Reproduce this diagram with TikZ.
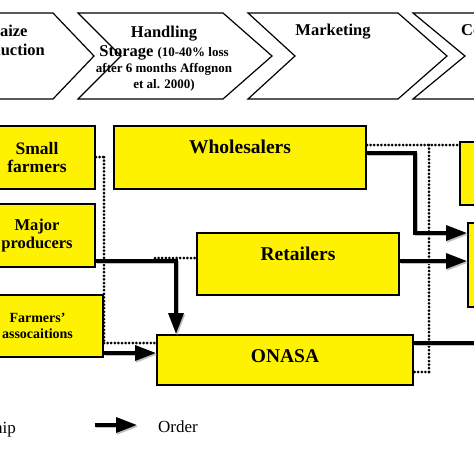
\documentclass[tikz,border=0pt]{standalone}
\usepackage{fontspec}
\setmainfont{Liberation Serif}
\usetikzlibrary{arrows.meta, positioning, decorations.markings}

\begin{document}
\begin{tikzpicture}[x=1pt, y=-1pt,
  stage/.style={draw, line width=1.2pt, fill=white},
  stagetext/.style={font=\bfseries\fontsize{16.5}{19}\selectfont, align=center, inner sep=0pt},
  actor/.style={draw, line width=2pt, fill=yellow, align=center, inner sep=0pt, font=\bfseries\fontsize{#1}{#1}\selectfont},
  orderline/.style={line width=3.4pt, preaction={draw=black!25, line width=3.4pt, transform canvas={shift={(1.2pt,-1.6pt)}}}},
  order/.style={orderline, -{Triangle[length=21pt, width=15pt]}},
  relation/.style={decoration={markings, mark=between positions 0 and 1 step 3.6pt with {\fill[black] (0,0) circle[radius=1.5pt];}}, decorate}]

\useasboundingbox (0,0) rectangle (474,474);
\clip (0,0) rectangle (474,474);

% Stages

\draw[stage] (-60,13) -- (53,13) -- (94,56) -- (53,99) -- (-60,99);
\draw[stage] (78,13) -- (223,13) -- (272,56) -- (223,99) -- (78,99) -- (121,56) -- cycle;
\draw[stage] (248,13) -- (398,13) -- (447,56) -- (398,99) -- (248,99) -- (295,56) -- cycle;
\draw[stage] (413,13) -- (520,13) -- (520,99) -- (413,99) -- (465,56) -- cycle;

\node[stagetext, anchor=north] (maize) at (6,25) {Maize\\production};
\node[stagetext, anchor=north] (handling) at (164,25.5)
{Handling\\Storage {\fontsize{13}{16}\selectfont(10-40\% loss}\\[-3pt]
{\fontsize{13}{16}\selectfont after 6 months Affognon}\\[-3pt]
{\fontsize{13}{16}\selectfont et al. 2000)}};
\node[stagetext, anchor=base] (marketing) at (333,35) {Marketing};
\node[stagetext, anchor=base west] (consumption) at (461,35) {Consumption};

% Actors

\node[actor=17.5, minimum width=116pt, minimum height=63pt] (smallfarmers) at (37,157.5) {Small\\[1pt]farmers};
\node[actor=16.5, minimum width=116pt, minimum height=63pt] (majorproducers) at (37,235.5) {Major\\[2pt]producers};
\node[actor=14, minimum width=131pt, minimum height=62pt] (farmersassoc) at (37.5,326) {Farmers'\\[2pt]assocaitions};
\node[actor=19.5, minimum width=252pt, minimum height=63pt, text depth=22pt] (wholesalers) at (240,157.5) {Wholesalers};
\node[actor=19.5, minimum width=202pt, minimum height=62pt, text depth=21pt] (retailers) at (298,264) {Retailers};
\node[actor=19.5, minimum width=256pt, minimum height=50pt, text depth=7pt] (onasa) at (285,360) {ONASA};
\node[actor=16.5, minimum width=60pt, minimum height=63pt] (righttop) at (490,173.5) {};
\node[actor=16.5, minimum width=60pt, minimum height=84pt] (rightmid) at (498,265) {};

% Relationships

\coordinate (mpdot) at (155,258);
\coordinate (wsdot) at (429,145);
\path[relation] (smallfarmers.east |- 0,157) -- (104,157);
\path[relation] (104,157) -- (104,343);
\path[relation] (104,343) -- (onasa.west |- 0,343);
\path[relation] (mpdot) -- (retailers.west |- mpdot);
\path[relation] (wholesalers.east |- 0,145) -- (righttop.west |- 0,145);
\path[relation] (wsdot) -- (429,372);
\path[relation] (429,372) -- (onasa.east |- 0,372);

% Orders

\coordinate (onasaout) at (480,343);
\draw[order] (majorproducers.east |- 0,261) -| (onasa.north -| 176,0);
\draw[order] (farmersassoc.east |- 0,353) -- (onasa.west |- 0,353);
\draw[order] (wholesalers.east |- 0,153) -| (415,233) -- (rightmid.west |- 0,233);
\draw[order] (retailers.east |- 0,261) -- (rightmid.west |- 0,261);
\draw[orderline] (onasa.east |- 0,343) -- (onasaout);

% Legend

\node[anchor=base east, inner sep=0pt, font=\fontsize{17}{20}\selectfont] (relationtext) at (16,433) {Relationship};
\coordinate (legstart) at (95,425);
\coordinate (legend) at (137,425);
\draw[order] (legstart) -- (legend);
\node[right=21pt of legend, inner sep=0pt, yshift=-2pt, font=\fontsize{17}{20}\selectfont] (ordertext) {Order};

\end{tikzpicture}
\end{document}
